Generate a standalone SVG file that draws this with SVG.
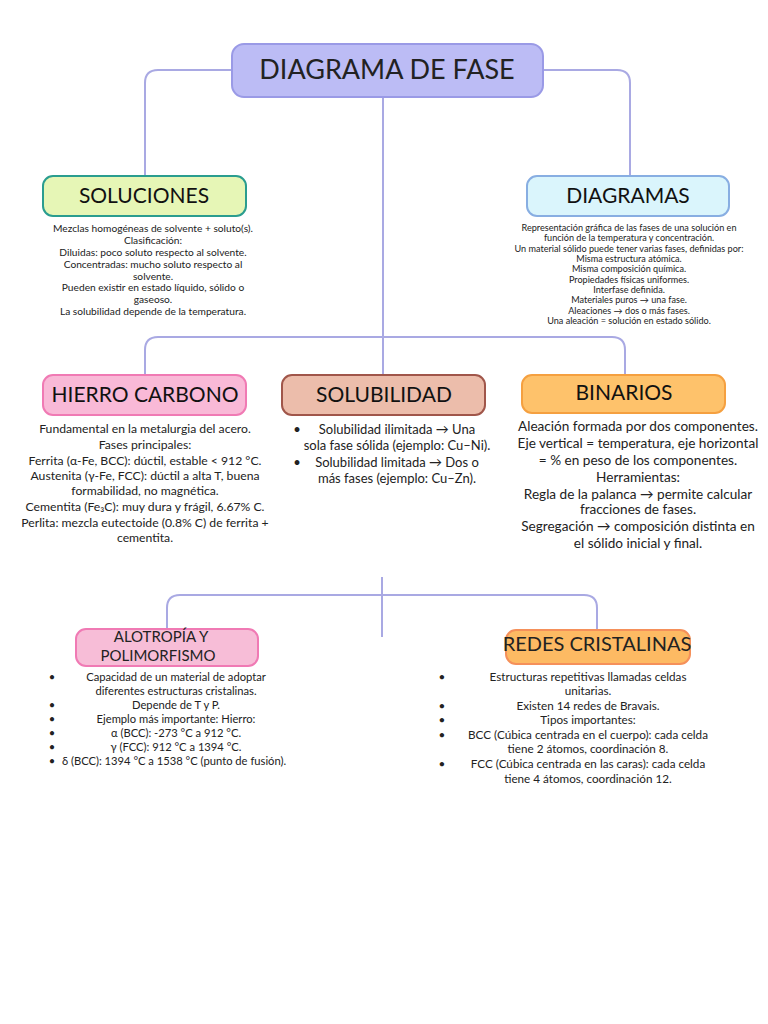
<svg xmlns="http://www.w3.org/2000/svg" width="768" height="1024" viewBox="0 0 768 1024">
<style>
text{font-family:Lato,"Liberation Sans",sans-serif;fill:#222;text-anchor:middle}
.h{font-size:21px;fill:#111}
.s{fill:#333}
.c{fill:none;stroke:#a9a9e3;stroke-width:2}
.b{stroke-width:2}
</style>
<rect width="768" height="1024" fill="#fff"/>
<g id="connectors">
<path class="c" d="M232 70 H158 Q145 70 145 83 V175"/>
<path class="c" d="M543 70 H617 Q630 70 630 83 V175"/>
<path class="c" d="M383 97 V375"/>
<path class="c" d="M145 375 V350 Q145 337 158 337 H612 Q625 337 625 350 V375"/>
<path class="c" d="M382 577 V637"/>
<path class="c" d="M167 628 V608 Q167 595 180 595 H584 Q597 595 597 608 V630"/>
</g>
<g id="title">
<rect class="b" x="232" y="44" width="311" height="53" rx="12" fill="#bcbcf5" stroke="#9a9ae6" stroke-width="3"/>
<text x="387" y="79" style="font-size:27px" fill="#111">DIAGRAMA DE FASE</text>
</g>
<g id="soluciones">
<rect class="b" x="43" y="176" width="203" height="40" rx="10" fill="#e6f6b6" stroke="#2a9d8f"/>
<text class="h" x="144" y="203">SOLUCIONES</text>
<g class="s" style="font-size:10.2px">
<text x="153" y="232">Mezclas homogéneas de solvente + soluto(s).</text>
<text x="153" y="244">Clasificación:</text>
<text x="153" y="256">Diluidas: poco soluto respecto al solvente.</text>
<text x="153" y="268">Concentradas: mucho soluto respecto al</text>
<text x="153" y="280">solvente.</text>
<text x="153" y="291">Pueden existir en estado líquido, sólido o</text>
<text x="153" y="303">gaseoso.</text>
<text x="153" y="315">La solubilidad depende de la temperatura.</text>
</g>
</g>
<g id="diagramas">
<rect class="b" x="527" y="176" width="202" height="40" rx="10" fill="#daf5fc" stroke="#88aee2"/>
<text class="h" x="628" y="203">DIAGRAMAS</text>
<g class="s" style="font-size:9.1px">
<text x="629" y="231">Representación gráfica de las fases de una solución en</text>
<text x="629" y="241">función de la temperatura y concentración.</text>
<text x="629" y="252">Un material sólido puede tener varias fases, definidas por:</text>
<text x="629" y="262">Misma estructura atómica.</text>
<text x="629" y="272">Misma composición química.</text>
<text x="629" y="283">Propiedades físicas uniformes.</text>
<text x="629" y="293">Interfase definida.</text>
<text x="629" y="303">Materiales puros → una fase.</text>
<text x="629" y="314">Aleaciones → dos o más fases.</text>
<text x="629" y="324">Una aleación = solución en estado sólido.</text>
</g>
</g>
<g id="hierro">
<rect class="b" x="43" y="375" width="203" height="40" rx="10" fill="#f9b9d7" stroke="#f07ab4"/>
<text class="h" x="145" y="402">HIERRO CARBONO</text>
<g class="s" style="font-size:12.2px">
<text x="145" y="433">Fundamental en la metalurgia del acero.</text>
<text x="145" y="449">Fases principales:</text>
<text x="145" y="465">Ferrita (α-Fe, BCC): dúctil, estable &lt; 912 °C.</text>
<text x="145" y="480">Austenita (γ-Fe, FCC): dúctil a alta T, buena</text>
<text x="145" y="495">formabilidad, no magnética.</text>
<text x="145" y="511">Cementita (Fe₃C): muy dura y frágil, 6.67% C.</text>
<text x="145" y="527">Perlita: mezcla eutectoide (0.8% C) de ferrita +</text>
<text x="145" y="542">cementita.</text>
</g>
</g>
<g id="solubilidad">
<rect class="b" x="282" y="375" width="203" height="40" rx="10" fill="#ecbdab" stroke="#a0564a"/>
<text class="h" x="384" y="402">SOLUBILIDAD</text>
<g class="s" style="font-size:13px">
<text x="297" y="434">•</text><text x="397" y="434">Solubilidad ilimitada → Una</text>
<text x="397" y="450">sola fase sólida (ejemplo: Cu–Ni).</text>
<text x="297" y="467">•</text><text x="397" y="467">Solubilidad limitada → Dos o</text>
<text x="397" y="483">más fases (ejemplo: Cu–Zn).</text>
</g>
</g>
<g id="binarios">
<rect class="b" x="522" y="375" width="203" height="38" rx="10" fill="#fec26b" stroke="#f5a040"/>
<text class="h" x="624" y="400">BINARIOS</text>
<g class="s" style="font-size:13.6px">
<text x="638" y="431">Aleación formada por dos componentes.</text>
<text x="638" y="448">Eje vertical = temperatura, eje horizontal</text>
<text x="638" y="465">= % en peso de los componentes.</text>
<text x="638" y="482">Herramientas:</text>
<text x="638" y="499">Regla de la palanca → permite calcular</text>
<text x="638" y="514">fracciones de fases.</text>
<text x="638" y="531">Segregación → composición distinta en</text>
<text x="638" y="548">el sólido inicial y final.</text>
</g>
</g>
<g id="alotropia">
<rect class="b" x="76" y="629" width="182" height="37" rx="10" fill="#f7bdd7" stroke="#f07ab4"/>
<text x="161" y="642" style="font-size:15px" fill="#111">ALOTROPÍA Y</text>
<text x="158" y="661" style="font-size:15px" fill="#111">POLIMORFISMO</text>
<g class="s" style="font-size:11.2px">
<text x="52" y="681">•</text><text x="176" y="681">Capacidad de un material de adoptar</text>
<text x="176" y="695">diferentes estructuras cristalinas.</text>
<text x="52" y="709">•</text><text x="176" y="709">Depende de T y P.</text>
<text x="52" y="723">•</text><text x="176" y="723">Ejemplo más importante: Hierro:</text>
<text x="52" y="737">•</text><text x="176" y="737">α (BCC): -273 °C a 912 °C.</text>
<text x="52" y="751">•</text><text x="176" y="751">γ (FCC): 912 °C a 1394 °C.</text>
<text x="52" y="765">•</text><text x="174" y="765">δ (BCC): 1394 °C a 1538 °C (punto de fusión).</text>
</g>
</g>
<g id="redes">
<rect class="b" x="506" y="630" width="184" height="34" rx="10" fill="#fdba63" stroke="#f5905a"/>
<text x="597" y="651" style="font-size:20px" fill="#111">REDES CRISTALINAS</text>
<g class="s" style="font-size:11.7px">
<text x="442" y="681">•</text><text x="588" y="681">Estructuras repetitivas llamadas celdas</text>
<text x="588" y="695">unitarias.</text>
<text x="442" y="710">•</text><text x="588" y="710">Existen 14 redes de Bravais.</text>
<text x="442" y="724">•</text><text x="588" y="724">Tipos importantes:</text>
<text x="442" y="739">•</text><text x="588" y="739">BCC (Cúbica centrada en el cuerpo): cada celda</text>
<text x="588" y="753">tiene 2 átomos, coordinación 8.</text>
<text x="442" y="768">•</text><text x="588" y="768">FCC (Cúbica centrada en las caras): cada celda</text>
<text x="588" y="783">tiene 4 átomos, coordinación 12.</text>
</g>
</g>
</svg>
